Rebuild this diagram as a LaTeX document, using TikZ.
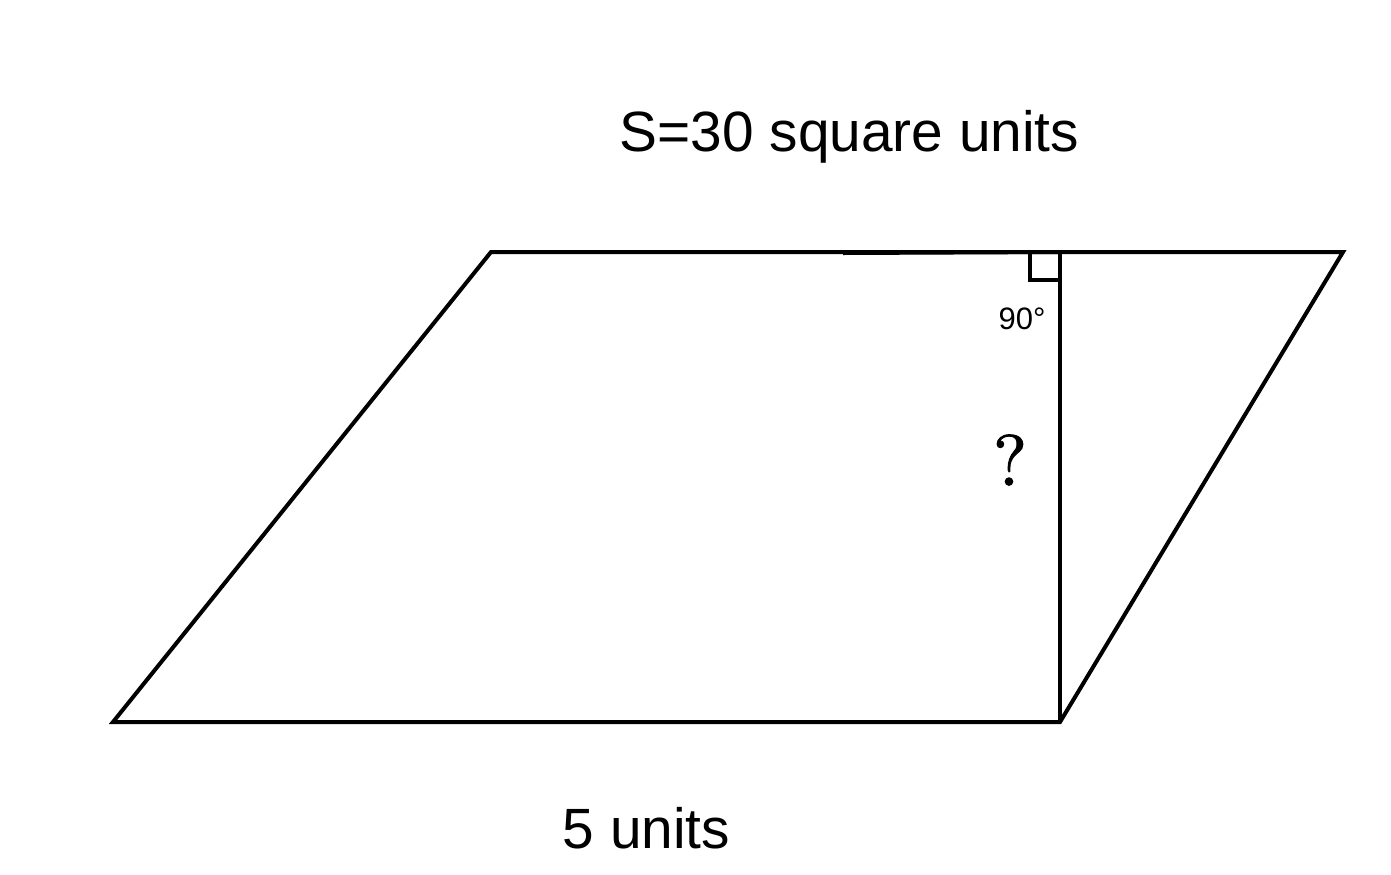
\documentclass[tikz,border=0pt]{standalone}
\usepackage{fontspec}
\setsansfont{Liberation Sans}
\newfontfamily\qfont[FakeBold=1.3]{lmroman10-regular.otf}
\begin{document}
\begin{tikzpicture}[x=0.5pt,y=-0.5pt,
  edge/.style={draw=black,line width=2pt,line join=miter},
  lbl/.style={inner sep=0pt,font=\sffamily\fontsize{28.4}{34}\selectfont,anchor=base},
  small/.style={inner sep=0pt,font=\sffamily\fontsize{15.5}{18}\selectfont,anchor=base}]
\useasboundingbox (0,0) rectangle (1391,874);
\coordinate (A) at (113,722);
\coordinate (B) at (1060,722);
\coordinate (C) at (1343,252);
\coordinate (D) at (491,252);
\coordinate (H) at (1060,252);
\coordinate (M) at (843,253);
\draw[edge] (A) -- (B) -- (C) -- (D) -- cycle;
\draw[edge] (M) -- (H);
\draw[edge] (B) -- (H);
\draw[line width=1.6pt] (1030,252) |- (1060,280);
\node[lbl] (area) at (849.5,151) {S=30 square units};
\node[lbl] (base) at (646.5,848) {5 units};
\node[small] (ang) at (1022,329) {90°};
\node[inner sep=0pt,font=\qfont\fontsize{36}{40}\selectfont] (q) at (1010,460) {?};
\end{tikzpicture}
\end{document}
